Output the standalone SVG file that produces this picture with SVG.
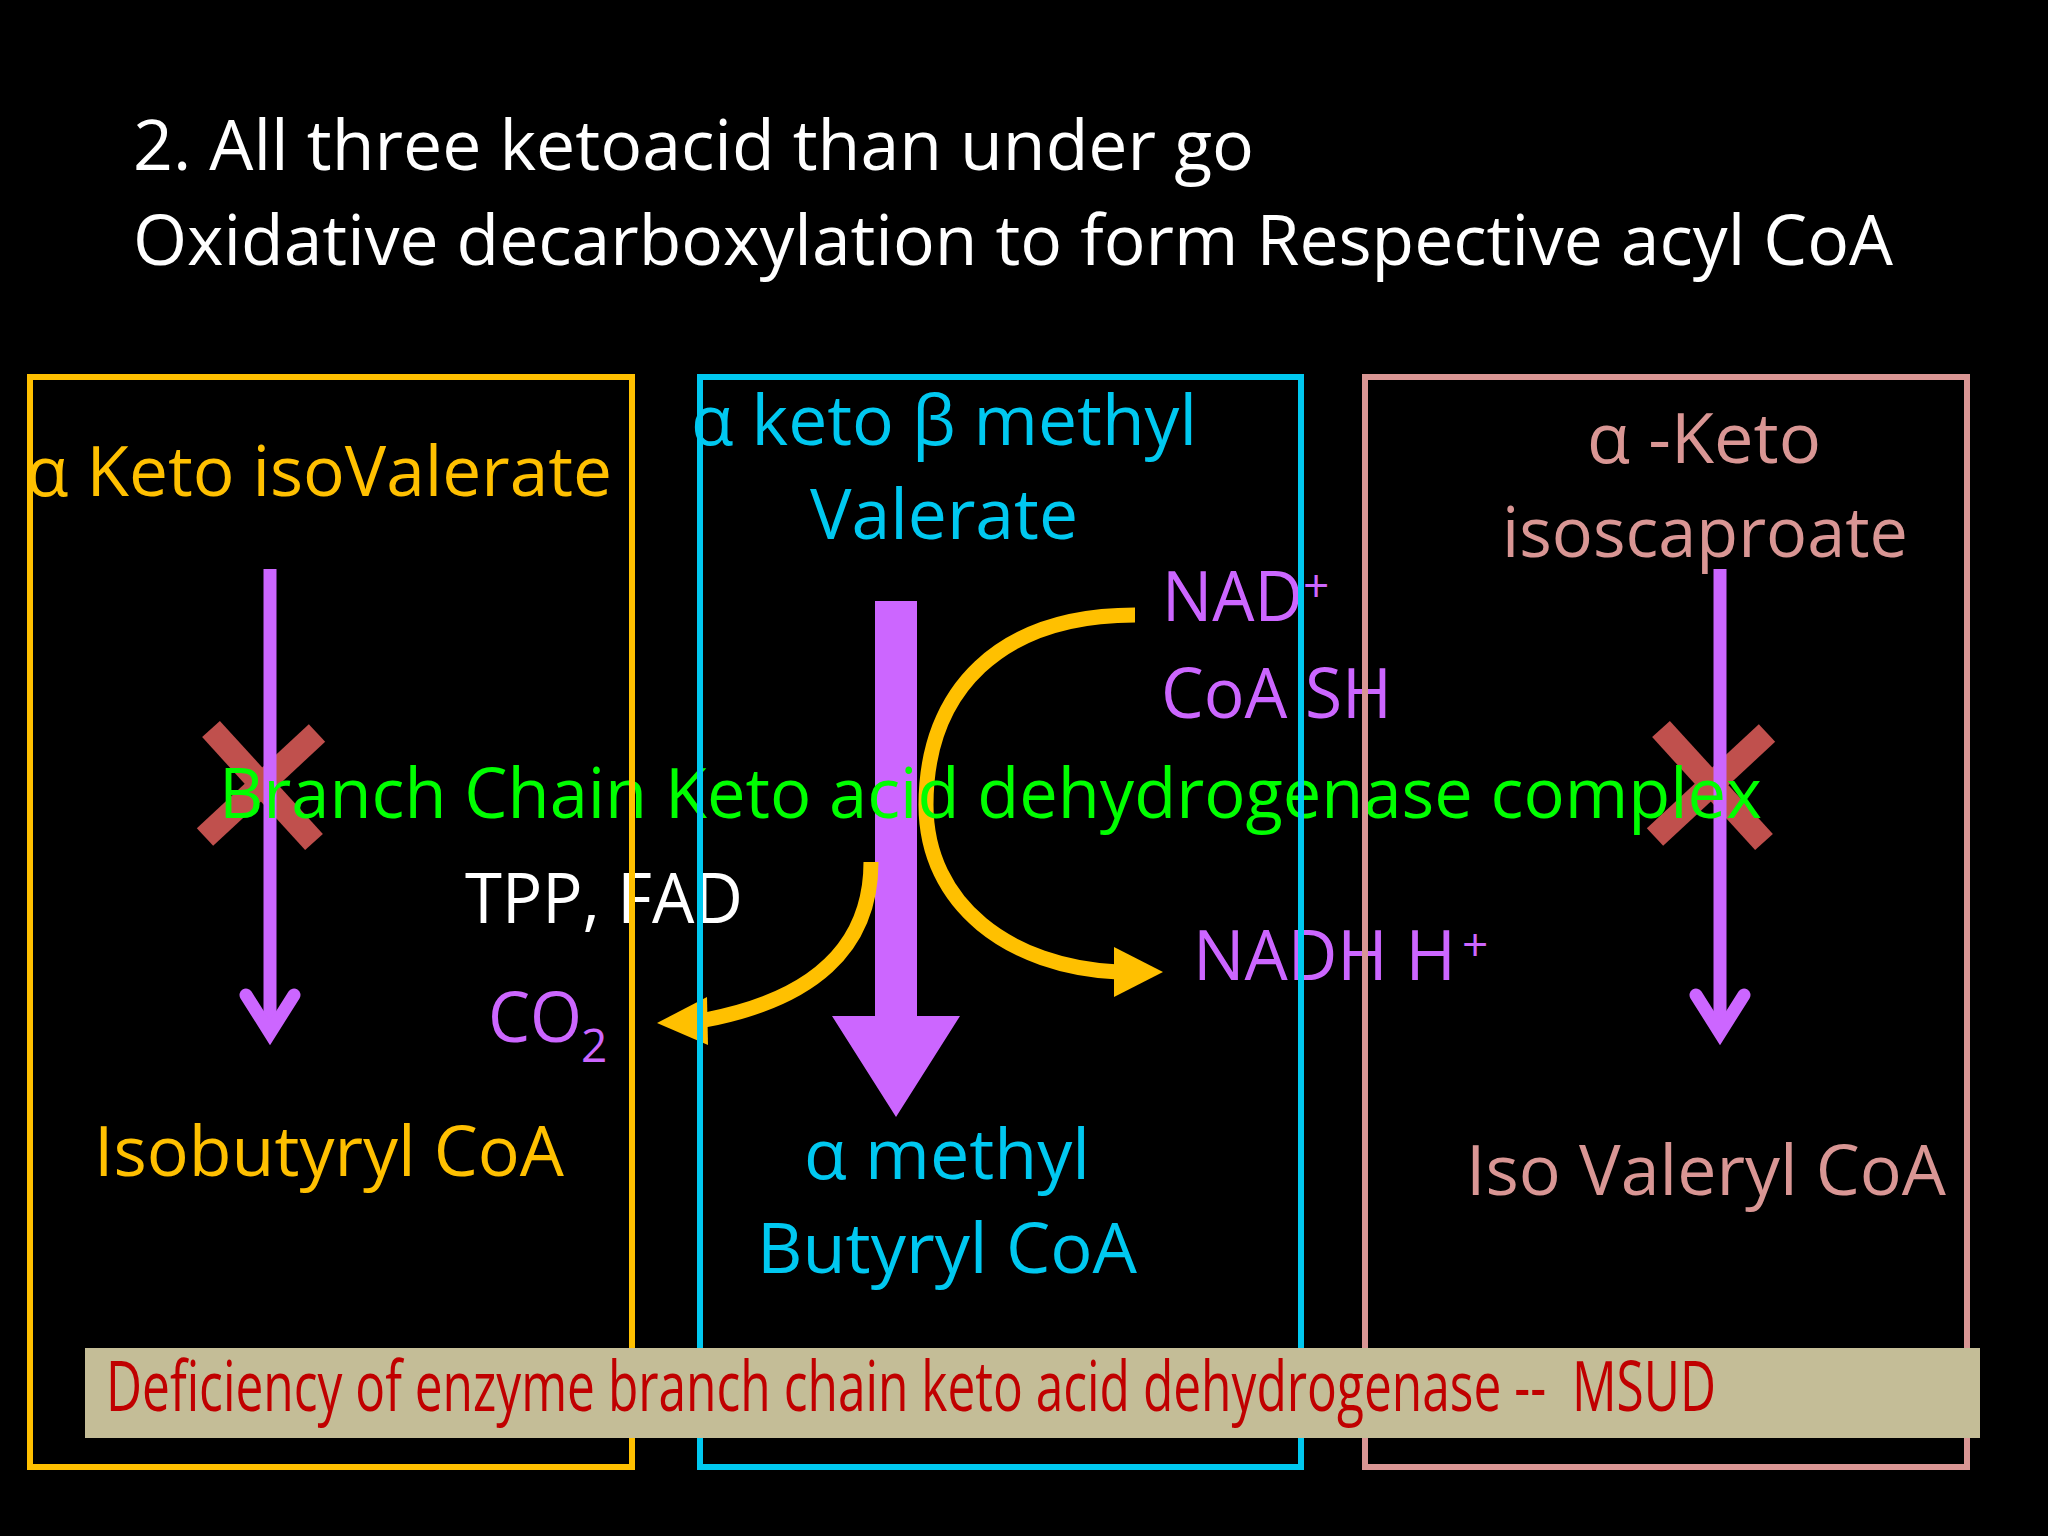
<svg xmlns="http://www.w3.org/2000/svg" width="2048" height="1536" viewBox="0 0 2048 1536">
<style>
text{font-family:"Open Sans","Noto Sans","DejaVu Sans",sans-serif;font-size:70px}
.w{fill:#FFFFFF}.y{fill:#FFC000}.c{fill:#00C8F0}.p{fill:#D99694}.v{fill:#CC66FF}.g{fill:#00FF00}
.box{fill:none;stroke-width:6}
.xm{stroke:#C0504D;stroke-width:24;stroke-linecap:butt}
.thin{fill:none;stroke:#CC66FF;stroke-width:13}
.curve{fill:none;stroke:#FFC000;stroke-width:15}
</style>
<defs>
<g id="xmark"><line class="xm" x1="211" y1="729" x2="314" y2="842"/><line class="xm" x1="317" y1="733" x2="205" y2="837"/></g>
<g id="thinarrow"><line class="thin" x1="270" y1="569" x2="270" y2="1030"/><path class="thin" d="M246,995 L270,1033 L294,995" stroke-linecap="round" stroke-linejoin="miter"/></g>
</defs>
<rect width="2048" height="1536" fill="#000000"/>

<g id="title">
<text class="w" x="133" y="170" textLength="1121" lengthAdjust="spacingAndGlyphs">2. All three ketoacid than under go</text>
<text class="w" x="133" y="265" textLength="1760" lengthAdjust="spacingAndGlyphs">Oxidative decarboxylation to form Respective acyl CoA</text>
</g>

<g id="connectors">
<use href="#xmark"/>
<use href="#xmark" transform="translate(1450,0)"/>
<use href="#thinarrow"/>
<use href="#thinarrow" transform="translate(1450,0)"/>
<polygon id="main-arrow" fill="#CC66FF" points="875,601 917,601 917,1016 960,1016 896,1117 832,1016 875,1016"/>
<path class="curve" d="M1135,615 C1000,615 926,690 926,805 C926,905 1010,967 1118,972"/>
<polygon fill="#FFC000" points="1163,972 1114,947 1114,997"/>
<path class="curve" d="M871,862 C871,950 810,1000 705,1020"/>
<polygon fill="#FFC000" points="657,1023 707,997 708,1045"/>
</g>

<g id="node-isovalerate">
<text class="y" x="26" y="496" textLength="586" lengthAdjust="spacingAndGlyphs">α Keto isoValerate</text>
<text class="y" x="94" y="1176" textLength="470" lengthAdjust="spacingAndGlyphs">Isobutyryl CoA</text>
</g>
<g id="node-methylvalerate">
<text class="c" x="691" y="445" textLength="506" lengthAdjust="spacingAndGlyphs">α keto β methyl</text>
<text class="c" x="810" y="539" textLength="268" lengthAdjust="spacingAndGlyphs">Valerate</text>
<text class="c" x="804" y="1179" textLength="286" lengthAdjust="spacingAndGlyphs">α methyl</text>
<text class="c" x="757" y="1273" textLength="380" lengthAdjust="spacingAndGlyphs">Butyryl CoA</text>
</g>
<g id="node-isocaproate">
<text class="p" x="1587" y="463" textLength="234" lengthAdjust="spacingAndGlyphs">α -Keto</text>
<text class="p" x="1502" y="557" textLength="406" lengthAdjust="spacingAndGlyphs">isoscaproate</text>
<text class="p" x="1466" y="1195" textLength="480" lengthAdjust="spacingAndGlyphs">Iso Valeryl CoA</text>
</g>
<g id="cofactors">
<text class="v"><tspan x="1162" y="621" textLength="141" lengthAdjust="spacingAndGlyphs">NAD</tspan><tspan x="1303" y="602" font-size="46">+</tspan></text>
<text class="v" x="1161" y="718" textLength="231" lengthAdjust="spacingAndGlyphs">CoA SH</text>
<text class="v"><tspan x="1193" y="980" textLength="263" lengthAdjust="spacingAndGlyphs">NADH H</tspan><tspan x="1462" y="961" font-size="46">+</tspan></text>
<text class="v"><tspan x="488" y="1042" textLength="94" lengthAdjust="spacingAndGlyphs">CO</tspan><tspan x="581" y="1062" font-size="46">2</tspan></text>
<text class="w" x="465" y="923" textLength="278" lengthAdjust="spacingAndGlyphs">TPP, FAD</text>
</g>
<g id="enzyme">
<text class="g" x="219" y="818" textLength="1543" lengthAdjust="spacingAndGlyphs">Branch Chain Keto acid dehydrogenase complex</text>
</g>

<g id="boxes">
<rect class="box" x="30" y="377" width="602" height="1090" stroke="#FFC000"/>
<rect class="box" x="700" y="377" width="601" height="1090" stroke="#00C8F0"/>
<rect class="box" x="1365" y="377" width="602" height="1090" stroke="#D99694" stroke-width="5"/>
</g>

<g id="note">
<rect x="85" y="1348" width="1895" height="90" fill="#C4BD97"/>
<text x="106" y="1411" font-size="45" fill="#C00000" textLength="1610" lengthAdjust="spacingAndGlyphs" xml:space="preserve">Deficiency of enzyme branch chain keto acid dehydrogenase --  MSUD</text>
</g>
</svg>
